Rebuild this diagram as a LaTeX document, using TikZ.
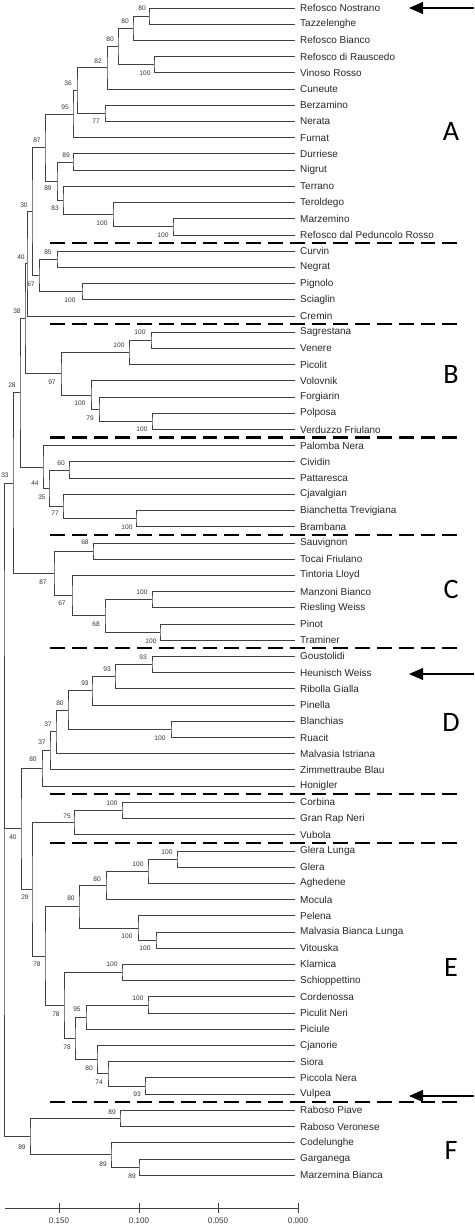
\documentclass[tikz,border=0pt]{standalone}
\usepackage{fontspec}
\setmainfont{Liberation Sans}
\newfontfamily\letterfont{Carlito}
\usepackage{tikz}
\usetikzlibrary{calc,arrows.meta}

\tikzset{
	leaf/.style={anchor=west, inner xsep=3.5pt, inner ysep=0pt, text=black!85, font=\fontsize{7.1}{8}\selectfont},
	boot/.style={inner sep=0pt, text=black!80, font=\fontsize{4.7}{5}\selectfont},
	branch/.style={draw=black!75, line width=0.6pt},
	sep/.style={line width=1.7pt, dash pattern=on 10.5pt off 5pt},
	group/.style={inner sep=0pt, font=\letterfont\fontsize{20}{20}\selectfont},
	pointer/.style={line width=0.8pt, -{Triangle[length=10pt,width=8.5pt]}},
	ticklabel/.style={inner sep=0pt, text=black!80, font=\fontsize{5.7}{6}\selectfont}
}

% clade: name, x, upper child, lower child
\newcommand\clade[4]{%
	\path let \p1=(#3), \p2=(#4) in ({#2*0.025cm}, {0.5*\y1+0.5*\y2}) coordinate (#1);
	\draw[branch] (#3) -| (#1) |- (#4);
}

\begin{document}
\begin{tikzpicture}[x=0.025cm, y=-0.025cm]
		\useasboundingbox (0,0) rectangle (474,1227);

		\foreach \name [count=\i] in {Refosco Nostrano, Tazzelenghe, Refosco Bianco, Refosco di Rauscedo, Vinoso Rosso, Cuneute, Berzamino, Nerata, Furnat, Durriese, Nigrut, Terrano, Teroldego, Marzemino, Refosco dal Peduncolo Rosso,
			Curvin, Negrat, Pignolo, Sciaglin, Cremin,
			Sagrestana, Venere, Picolit, Volovnik, Forgiarin, Polposa, Verduzzo Friulano,
			Palomba Nera, Cividin, Pattaresca, Cjavalgian, Bianchetta Trevigiana, Brambana,
			Sauvignon, Tocai Friulano, Tintoria Lloyd, Manzoni Bianco, Riesling Weiss, Pinot, Traminer,
			Goustolidi, Heunisch Weiss, Ribolla Gialla, Pinella, Blanchias, Ruacit, Malvasia Istriana, Zimmettraube Blau, Honigler,
			Corbina, Gran Rap Neri, Vubola,
			Glera Lunga, Glera, Aghedene, Mocula, Pelena, Malvasia Bianca Lunga, Vitouska, Klarnica, Schioppettino, Cordenossa, Piculit Neri, Piciule, Cjanorie, Siora, Piccola Nera, Vulpea,
			Raboso Piave, Raboso Veronese, Codelunghe, Garganega, Marzemina Bianca} {
			\node[leaf] (L\i) at (295, {8+(\i-1)*16.21}) {\name};
		}

		% group A
		\clade{a1}{149}{L1.west}{L2.west}
		\clade{a2}{133}{a1}{L3.west}
		\clade{a3}{154}{L4.west}{L5.west}
		\clade{a4}{118}{a2}{a3}
		\clade{a5}{107}{a4}{L6.west}
		\clade{a6}{105}{L7.west}{L8.west}
		\clade{a7}{77}{a5}{a6}
		\clade{a8}{73}{a7}{L9.west}
		\clade{a9}{73}{L10.west}{L11.west}
		\clade{a10}{173}{L14.west}{L15.west}
		\clade{a11}{113}{L13.west}{a10}
		\clade{a12}{63}{L12.west}{a11}
		\clade{a13}{57}{a9}{a12}
		\clade{a14}{45}{a8}{a13}
		\clade{c1}{57}{L16.west}{L17.west}
		\clade{c2}{82}{L18.west}{L19.west}
		\clade{c3}{39}{c1}{c2}
		\clade{c4}{32}{a14}{c3}
		\clade{c5}{27}{c4}{L20.west}
		% group B
		\clade{b1}{151}{L21.west}{L22.west}
		\clade{b2}{129}{b1}{L23.west}
		\clade{b3}{152}{L26.west}{L27.west}
		\clade{b4}{99}{L25.west}{b3}
		\clade{b5}{91}{L24.west}{b4}
		\clade{b6}{61}{b2}{b5}
		\clade{r1}{25}{c5}{b6}
		\clade{p1}{69}{L29.west}{L30.west}
		\clade{p2}{136}{L32.west}{L33.west}
		\clade{p3}{63}{L31.west}{p2}
		\clade{p4}{49}{p1}{p3}
		\clade{p5}{43}{L28.west}{p4}
		\clade{r2}{20}{r1}{p5}
		% group C
		\clade{k1}{93}{L34.west}{L35.west}
		\clade{k2}{152}{L37.west}{L38.west}
		\clade{k3}{160}{L39.west}{L40.west}
		\clade{k4}{105}{k2}{k3}
		\clade{k5}{72}{L36.west}{k4}
		\clade{k6}{54}{k1}{k5}
		\clade{r3}{13}{r2}{k6}
		% group D
		\clade{d1}{152}{L41.west}{L42.west}
		\clade{d2}{115}{d1}{L43.west}
		\clade{d3}{92}{d2}{L44.west}
		\clade{d4}{171}{L45.west}{L46.west}
		\clade{d5}{68}{d3}{d4}
		\clade{d6}{56}{d5}{L47.west}
		\clade{d7}{50}{d6}{L48.west}
		\clade{d8}{42}{d7}{L49.west}
		\clade{e1}{122}{L50.west}{L51.west}
		\clade{e2}{74}{e1}{L52.west}
		% group E
		\clade{f1}{177}{L53.west}{L54.west}
		\clade{f2}{148}{f1}{L55.west}
		\clade{f3}{106}{f2}{L56.west}
		\clade{f4}{156}{L58.west}{L59.west}
		\clade{f5}{138}{L57.west}{f4}
		\clade{f6}{79}{f3}{f5}
		\clade{f7}{122}{L60.west}{L61.west}
		\clade{f8}{148}{L62.west}{L63.west}
		\clade{f9}{86}{f8}{L64.west}
		\clade{f10}{145}{L67.west}{L68.west}
		\clade{f11}{108}{L66.west}{f10}
		\clade{f12}{97}{L65.west}{f11}
		\clade{f13}{75}{f9}{f12}
		\clade{f14}{64}{f7}{f13}
		\clade{f15}{45}{f6}{f14}
		\clade{r4}{32}{e2}{f15}
		\clade{r5}{21}{d8}{r4}
		% group F
		\clade{g1}{120}{L69.west}{L70.west}
		\clade{g2}{139}{L72.west}{L73.west}
		\clade{g3}{111}{L71.west}{g2}
		\clade{g4}{30}{g1}{g3}
		\clade{r6}{4}{r3}{r5}
		\clade{root}{4}{r6}{g4}

		\foreach \bx/\by/\bt [count=\k] in {142/8/80, 125/21/80, 145/73/100, 110/39/80, 98/61/82, 96/121/77, 68/83/36, 65/107/95, 66/155/89, 163/235/100, 102/223/100, 55/208/83, 48/188/89, 37/140/87,
			48/252/85, 70/300/100, 31/284/67, 24/205/30, 21/257/40,
			140/332/100, 119/345/100, 142/429/100, 90/418/79, 80/403/100, 52/382/97, 17/311/38,
			61/463/60, 127/527/100, 55/513/77, 42/497/35, 35/483/44,
			85/542/68, 142/592/100, 151/641/100, 96/624/68, 62/603/67, 43/582/87, 12/385/28, 5/475/33,
			143/657/93, 107/669/93, 85/683/93, 160/738/100, 60/703/80, 48/724/37, 42/742/37, 33/759/80,
			112/803/100, 67/816/75,
			167/852/100, 138/864/100, 97/879/80, 145/948/100, 127/936/100, 71/898/80, 112/964/100, 138/998/100, 77/1009/95,
			137/1094/93, 99/1082/74, 89/1068/80, 67/1047/78, 56/1014/78, 37/964/78, 25/897/29, 13/837/40,
			112/1112/89, 132/1176/89, 103/1164/89, 22/1147/89} {
			\node[boot] (s\k) at (\bx,\by) {\bt};
		}

		% group borders
		\foreach \j in {15, 20, 27, 33, 40, 49, 52, 68} {
			\draw[sep] (50, {8+(\j-0.5)*16.21}) -- (457, {8+(\j-0.5)*16.21});
		}

		\node[group] (gA) at (451, 131) {A};
		\node[group] (gB) at (451, 374) {B};
		\node[group] (gC) at (451, 589) {C};
		\node[group] (gD) at (451, 722) {D};
		\node[group] (gE) at (451, 967) {E};
		\node[group] (gF) at (451, 1150) {F};

		% arrows
		\foreach \ay [count=\k] in {8, 674, 1096} {
			\coordinate (ar\k) at (474, \ay);
			\coordinate (at\k) at (409, \ay);
			\draw[pointer] (ar\k) -- (at\k);
		}

		% distance scale
		\draw[branch] (5,1208) -- (298,1208);
		\foreach \tx/\tl [count=\k] in {59/0.150, 139/0.100, 218/0.050, 298/0.000} {
			\draw[branch] (\tx,1203) -- (\tx,1213);
			\node[ticklabel] (t\k) at (\tx,1221) {\tl};
		}
	\end{tikzpicture}
\end{document}
